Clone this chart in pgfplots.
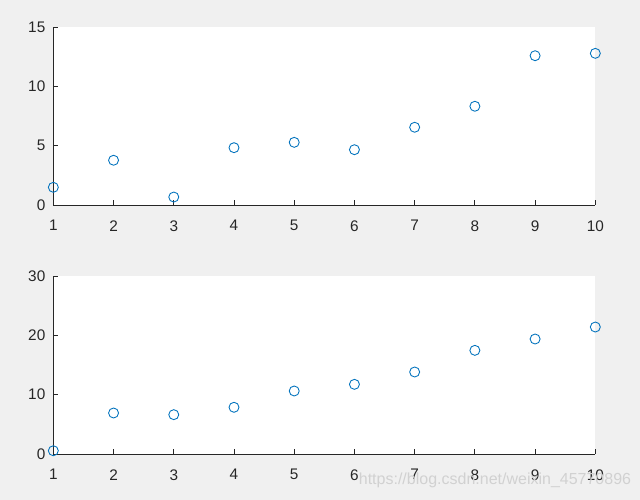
\documentclass[border=0pt]{standalone}
\usepackage{pgfplots}
\pgfplotsset{compat=1.18}
\usepackage{fontspec}
\setmainfont{Liberation Sans}
\definecolor{mblue}{HTML}{0072BD}
\definecolor{axc}{HTML}{262626}
\definecolor{bg}{HTML}{F0F0F0}
\pgfplotsset{
  mstyle/.style={
    scale only axis, width=406.5pt, height=133.5pt,
    axis x line=bottom, axis y line=left,
    axis line style={-, color=axc, line width=0.6pt},
    axis background/.style={fill=white},
    tick align=inside, major tick length=3.75pt,
    tick style={color=axc, line width=0.6pt},
    xmin=1, xmax=10, xtick={1,...,10},
    ticklabel style={font=\fontsize{11.5}{13}\selectfont, color=axc},
    xticklabel style={yshift=-8pt},
    yticklabel style={xshift=-2.5pt},
    /pgf/number format/assume math mode=true,
    clip=false,
  },
  mplot/.style={only marks, mark=o, mark size=3.75pt, color=mblue, mark options={line width=0.65pt}}
}
\begin{document}
\begin{tikzpicture}
\fill[bg] (0,0) rectangle (480pt,375pt);
\begin{axis}[mstyle, at={(40pt,221.25pt)}, anchor=south west, ymin=0, ymax=15, ytick={0,5,10,15}]
\addplot[mplot] coordinates {(1,1.49) (2,3.77) (3,0.67) (4,4.83) (5,5.28) (6,4.66) (7,6.55) (8,8.32) (9,12.58) (10,12.78)};
\end{axis}
\begin{axis}[mstyle, at={(40pt,34.5pt)}, anchor=south west, ymin=0, ymax=30, ytick={0,10,20,30}]
\addplot[mplot] coordinates {(1,0.55) (2,6.91) (3,6.63) (4,7.87) (5,10.62) (6,11.74) (7,13.82) (8,17.47) (9,19.38) (10,21.4)};
\end{axis}
\node[anchor=center, text=black!18, font=\fontsize{12}{14}\selectfont] at (371.25pt,15pt) {https://blog.csdn.net/weixin\_45770896};
\end{tikzpicture}
\end{document}
